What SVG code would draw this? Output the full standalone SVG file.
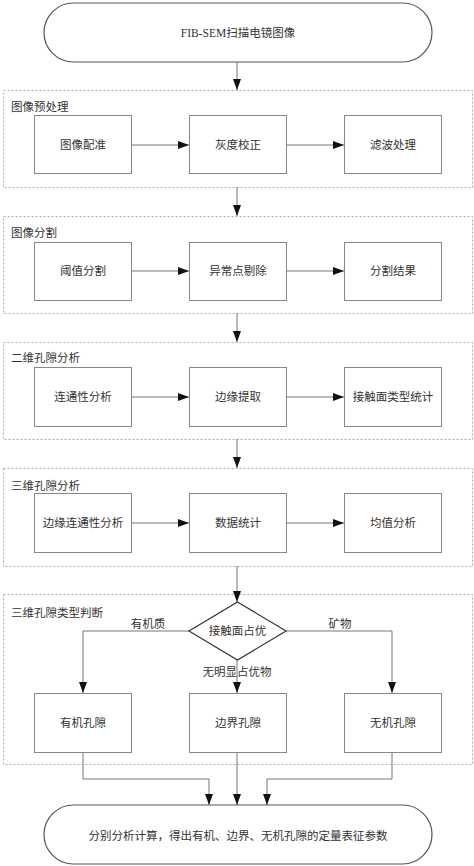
<svg xmlns="http://www.w3.org/2000/svg" width="474" height="866" viewBox="0 0 474 866">
<defs>
<style>
.sec{fill:none;stroke:#aaa;stroke-width:1;stroke-dasharray:2,2}
.box{fill:#fff;stroke:#888;stroke-width:1}
.term{fill:#fff;stroke:#555;stroke-width:1.2}
.ln{fill:none;stroke:#777;stroke-width:1}
.t{font-family:"Liberation Serif","Noto Sans CJK SC",serif;font-size:11.5px;fill:#333;text-anchor:middle;dominant-baseline:central}
.lbl{font-family:"Liberation Serif","Noto Sans CJK SC",serif;font-size:11.5px;fill:#333;dominant-baseline:central}
</style>
<marker id="ah" viewBox="0 0 11 8" refX="11" refY="4" markerWidth="11" markerHeight="8" markerUnits="userSpaceOnUse" orient="auto">
<path d="M0,0 L11,4 L0,8 z" fill="#111"/>
</marker>
</defs>
<rect width="474" height="866" fill="#fff"/>

<g id="sections">
<rect class="sec" x="3.5" y="90.5" width="469" height="97"/>
<text class="lbl" x="11" y="107">图像预处理</text>
<rect class="sec" x="3.5" y="216.5" width="469" height="97"/>
<text class="lbl" x="11" y="233">图像分割</text>
<rect class="sec" x="3.5" y="342.5" width="469" height="97"/>
<text class="lbl" x="11" y="358">二维孔隙分析</text>
<rect class="sec" x="3.5" y="468.5" width="469" height="98"/>
<text class="lbl" x="11" y="486">三维孔隙分析</text>
<rect class="sec" x="3.5" y="594.5" width="469" height="170"/>
<text class="lbl" x="11" y="613">三维孔隙类型判断</text>
</g>

<g id="connectors">
<line class="ln" x1="237" y1="62" x2="237" y2="90" marker-end="url(#ah)"/>
<line class="ln" x1="237" y1="187" x2="237" y2="216" marker-end="url(#ah)"/>
<line class="ln" x1="237" y1="313" x2="237" y2="342" marker-end="url(#ah)"/>
<line class="ln" x1="237" y1="439" x2="237" y2="468" marker-end="url(#ah)"/>
<line class="ln" x1="237" y1="566" x2="237" y2="602" marker-end="url(#ah)"/>
<line class="ln" x1="131" y1="145" x2="189" y2="145" marker-end="url(#ah)"/>
<line class="ln" x1="286" y1="145" x2="344" y2="145" marker-end="url(#ah)"/>
<line class="ln" x1="131" y1="271" x2="189" y2="271" marker-end="url(#ah)"/>
<line class="ln" x1="286" y1="271" x2="344" y2="271" marker-end="url(#ah)"/>
<line class="ln" x1="131" y1="397" x2="189" y2="397" marker-end="url(#ah)"/>
<line class="ln" x1="286" y1="397" x2="344" y2="397" marker-end="url(#ah)"/>
<line class="ln" x1="131" y1="523" x2="189" y2="523" marker-end="url(#ah)"/>
<line class="ln" x1="286" y1="523" x2="344" y2="523" marker-end="url(#ah)"/>
<polyline class="ln" points="189,631 83,631 83,693" marker-end="url(#ah)"/>
<polyline class="ln" points="286,631 392,631 392,693" marker-end="url(#ah)"/>
<line class="ln" x1="237" y1="660" x2="237" y2="693" marker-end="url(#ah)"/>
<text class="t" x="148" y="624">有机质</text>
<text class="t" x="340" y="624">矿物</text>
<text class="t" x="237" y="672">无明显占优物</text>
<polyline class="ln" points="83,752 83,779 209,779 209,805" marker-end="url(#ah)"/>
<line class="ln" x1="237" y1="752" x2="237" y2="805" marker-end="url(#ah)"/>
<polyline class="ln" points="392,752 392,779 267,779 267,805" marker-end="url(#ah)"/>
</g>

<g id="start"><rect class="term" x="44" y="3" width="388" height="59" rx="29.5"/><text class="t" x="238" y="33">FIB-SEM扫描电镜图像</text></g>

<g id="n11"><rect class="box" x="34.5" y="115.5" width="97" height="58"/><text class="t" x="83" y="145">图像配准</text></g>
<g id="n12"><rect class="box" x="189.5" y="115.5" width="97" height="58"/><text class="t" x="238" y="145">灰度校正</text></g>
<g id="n13"><rect class="box" x="344.5" y="115.5" width="97" height="58"/><text class="t" x="393" y="145">滤波处理</text></g>

<g id="n21"><rect class="box" x="34.5" y="242.5" width="97" height="58"/><text class="t" x="83" y="271">阈值分割</text></g>
<g id="n22"><rect class="box" x="189.5" y="242.5" width="97" height="58"/><text class="t" x="238" y="271">异常点剔除</text></g>
<g id="n23"><rect class="box" x="344.5" y="242.5" width="97" height="58"/><text class="t" x="393" y="271">分割结果</text></g>

<g id="n31"><rect class="box" x="34.5" y="367.5" width="97" height="59"/><text class="t" x="83" y="397">连通性分析</text></g>
<g id="n32"><rect class="box" x="189.5" y="367.5" width="97" height="59"/><text class="t" x="238" y="397">边缘提取</text></g>
<g id="n33"><rect class="box" x="344.5" y="367.5" width="97" height="59"/><text class="t" x="393" y="397">接触面类型统计</text></g>

<g id="n41"><rect class="box" x="34.5" y="493.5" width="97" height="59"/><text class="t" x="83" y="523">边缘连通性分析</text></g>
<g id="n42"><rect class="box" x="189.5" y="493.5" width="97" height="59"/><text class="t" x="238" y="523">数据统计</text></g>
<g id="n43"><rect class="box" x="344.5" y="493.5" width="97" height="59"/><text class="t" x="393" y="523">均值分析</text></g>

<g id="decision"><polygon points="237.5,602 286,631 237.5,660 189,631" fill="#fff" stroke="#333" stroke-width="1.2"/><text class="t" x="237.5" y="631">接触面占优</text></g>

<g id="n51"><rect class="box" x="34.5" y="693.5" width="97" height="59"/><text class="t" x="83" y="723">有机孔隙</text></g>
<g id="n52"><rect class="box" x="189.5" y="693.5" width="97" height="59"/><text class="t" x="238" y="723">边界孔隙</text></g>
<g id="n53"><rect class="box" x="344.5" y="693.5" width="97" height="59"/><text class="t" x="393" y="723">无机孔隙</text></g>

<g id="end"><rect class="term" x="44" y="805" width="388" height="59" rx="29.5"/><text class="t" x="238" y="836">分别分析计算，得出有机、边界、无机孔隙的定量表征参数</text></g>
</svg>
